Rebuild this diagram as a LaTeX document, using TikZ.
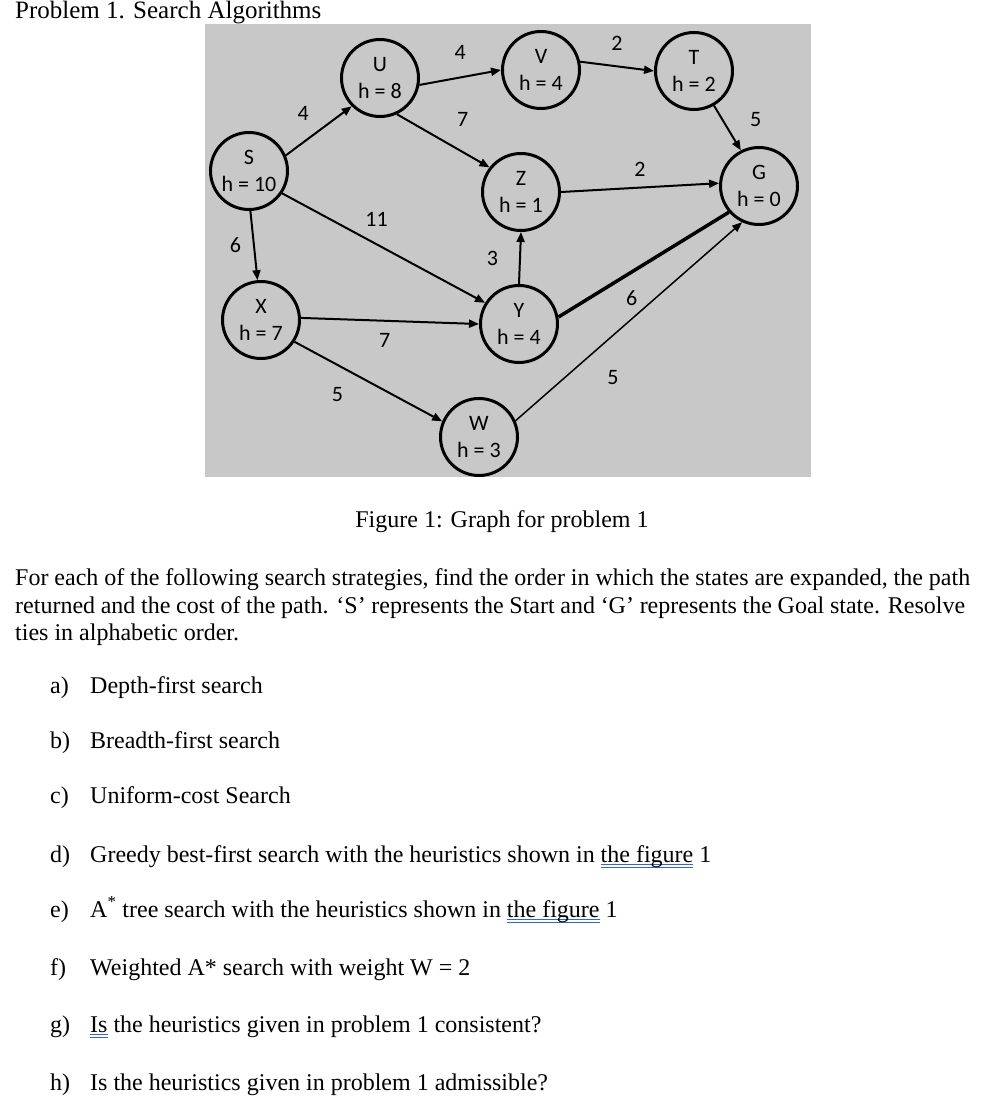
\documentclass[tikz,border=0pt]{standalone}
\usepackage{fontspec}
\setmainfont{Liberation Serif}
\newfontfamily\carlito{Carlito}
\usetikzlibrary{arrows.meta}

\definecolor{panelgray}{RGB}{200,200,200}
\definecolor{gramblue}{RGB}{50,100,210}

% blue double underline of the word processor
\newcommand\gramline[1]{\setbox0=\hbox{#1}%
  \rlap{\color{gramblue}\rule[-3pt]{\wd0}{0.9pt}}%
  \rlap{\color{gramblue}\rule[-5.5pt]{\wd0}{0.9pt}}\box0\relax}

\begin{document}
\begin{tikzpicture}[
        x=1pt,
        y=-1pt,
        state/.style={
            circle,
            draw,
            line width=3pt,
            minimum size=77pt,
            inner sep=0pt,
            align=center,
            font=\carlito\fontsize{22}{27}\selectfont
        },
        weight/.style={
            inner sep=1pt,
            font=\carlito\fontsize{22}{27}\selectfont
        },
        edge/.style={
            -{Triangle[length=10pt,width=8pt]},
            line width=2pt
        },
        txt/.style={
            anchor=base west,
            inner sep=0pt,
            font=\fontsize{24}{27.6}\selectfont
        }
    ]

    \useasboundingbox (0,0) rectangle (982,1108);

    % title
    \node[txt, font=\fontsize{25}{28}\selectfont] (title) at (15,19) {Problem 1. Search Algorithms};

    % panel
    \fill[panelgray] (205,24) rectangle (811,477);

    % states
    \node[state] (S) at (249,171) {S\\h = 10};
    \node[state] (U) at (380,78) {U\\h = 8};
    \node[state] (V) at (541,70) {V\\h = 4};
    \node[state] (T) at (694,71) {T\\h = 2};
    \node[state] (Z) at (521,192) {Z\\h = 1};
    \node[state] (G) at (759,186) {G\\h = 0};
    \node[state] (X) at (261,320) {X\\h = 7};
    \node[state] (Y) at (519,324) {Y\\h = 4};
    \node[state] (W) at (479,437) {W\\h = 3};

    % edges
    \draw[edge] (S.23) -- node[weight, above left=8pt] (wSU) {4} (U.225);
    \draw[edge] (U.-10) -- node[weight, above=16pt] (wUV) {4} (V.180);
    \draw[edge] (U.-65) -- node[weight, above right=12pt] (wUZ) {7} (Z.142);
    \draw[edge] (V.12) -- node[weight, above=14pt] (wVT) {2} (T.180);
    \draw[edge] (T.-60) -- node[weight, pos=.3, right=26pt] (wTG) {5} (G.117);
    \draw[edge] (Z.0) -- node[weight, above=9pt] (wZG) {2} (G.176);
    \draw[edge] (S.-88) -- node[weight, left=11pt] (wSX) {6} (X.95);
    \draw[edge] (S.-34) -- node[weight, pos=.465, above=16pt] (wSY) {11} (Y.148);
    \draw[edge] (Y.90) -- node[weight, left=20pt] (wYZ) {3} (Z.-90);
    \draw[line width=3.5pt] (Y.10) -- node[weight, pos=.43, below=16pt] (wYG) {6} (G.221);
    \draw[edge] (X.3) -- node[weight, pos=.47, below=11pt] (wXY) {7} (Y.180);
    \draw[edge] (X.-33) -- node[weight, pos=.29, below=21pt] (wXW) {5} (W.157);
    \draw[edge, line width=1.5pt] (W.24) -- node[weight, pos=.43, below=33pt] (wWG) {5} (G.245);

    % caption and text
    \node[txt, anchor=base] (caption) at (502,527) {Figure 1: Graph for problem 1};

    \node[txt] (para1) at (15,585) {\hbox to 955pt{For each of the following search strategies, find the order in which the states are expanded, the path}};
    \node[txt] (para2) at (15,613) {\hbox to 950pt{returned and the cost of the path. ‘S’ represents the Start and ‘G’ represents the Goal state. Resolve}};
    \node[txt] (para3) at (15,640) {ties in alphabetic order.};

    \node[txt] (qa) at (50,693) {\makebox[40pt][l]{a)}Depth-first search};
    \node[txt] (qb) at (50,748) {\makebox[40pt][l]{b)}Breadth-first search};
    \node[txt] (qc) at (50,803) {\makebox[40pt][l]{c)}Uniform-cost Search};
    \node[txt] (qd) at (50,862) {\makebox[40pt][l]{d)}Greedy best-first search with the heuristics shown in \gramline{the figure} 1};
    \node[txt] (qe) at (50,917) {\makebox[40pt][l]{e)}A\textsuperscript{*} tree search with the heuristics shown in \gramline{the figure} 1};
    \node[txt] (qf) at (50,975) {\makebox[40pt][l]{f)}Weighted A* search with weight W = 2};
    \node[txt] (qg) at (50,1032) {\makebox[40pt][l]{g)}\gramline{Is} the heuristics given in problem 1 consistent?};
    \node[txt] (qh) at (50,1090) {\makebox[40pt][l]{h)}Is the heuristics given in problem 1 admissible?};

\end{tikzpicture}
\end{document}
